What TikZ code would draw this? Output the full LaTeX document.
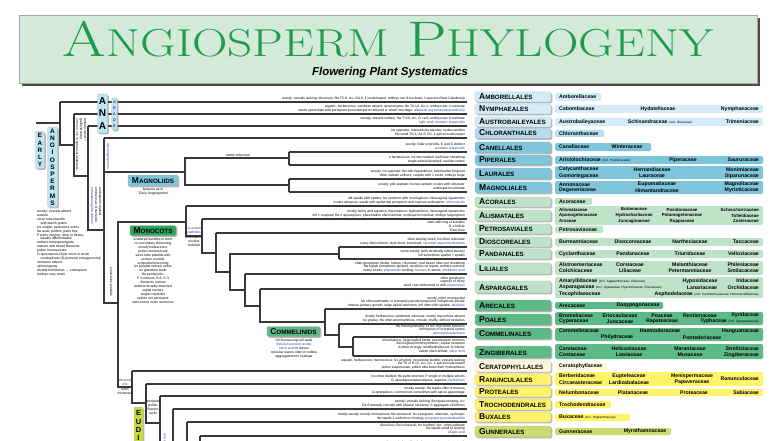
\documentclass[tikz,border=0pt]{standalone}
\usepackage{fontspec}
\newfontfamily\lsans{Liberation Sans}
\usetikzlibrary{shadows}
\definecolor{titleg}{HTML}{1E9C4B}
\definecolor{headbg}{HTML}{D4EAD9}
\definecolor{linec}{HTML}{383838}
\definecolor{blu}{HTML}{2B3FA8}
\definecolor{anac}{HTML}{D3ECF8}
\definecolor{chlc}{HTML}{B6DDED}
\definecolor{magc}{HTML}{7EC4DB}
\definecolor{monoc}{HTML}{BFE3C9}
\definecolor{commc}{HTML}{5DB985}
\definecolor{cerc}{HTML}{FFF9DB}
\definecolor{eudc}{HTML}{FFF36A}
\definecolor{gunc}{HTML}{CADB6F}
\definecolor{earlyc}{HTML}{BEE5F5}
\definecolor{monolbl}{HTML}{2EA45E}
\definecolor{eudlbl}{HTML}{C6DB3B}
\newcommand\bl[1]{\textcolor{blu}{#1}}
\newcommand\inc[1]{{\fontsize{3.2}{3.2}\selectfont\mdseries (incl. #1)}}
\newcounter{fc}
\newcommand\ft[4]{\stepcounter{fc}\node[ftxt,anchor=#3] (f\number\value{fc}) at (#1,#2) {#4};}
\newcommand\orow[6]{%
  \node[obox,fill=#4,minimum height={(#3-#2)*1pt}] (ob#1) at (513,{(#2+#3)/2}) {};
  \node[anchor=base west,inner sep=0pt,font=\lsans\bfseries] (ot#1) at (479,{#3-2.6}) {{\fontsize{8.5}{8.5}\selectfont #5}{\fontsize{6.2}{6.2}\selectfont #6}};}
\newcommand\fambox[4]{\path[fill=#4,rounded corners=1.5pt] (555,#2) rectangle (#1,#3);}
\newcommand\ann[3]{\node[ann] (a#1) at (465,#2) {#3};}
\begin{document}
\begin{tikzpicture}[x=1pt,y=-1pt,
  br/.style={draw=linec,line width=1.1pt},
  ann/.style={font=\lsans\fontsize{3.4}{3.75}\selectfont,align=right,anchor=south east,inner sep=0pt},
  sm/.style={font=\lsans\fontsize{3.4}{3.9}\selectfont,inner sep=0pt},
  ftxt/.style={font=\lsans\bfseries\fontsize{5.2}{5.2}\selectfont,inner sep=0pt},
  fsm/.style={font=\lsans\bfseries\fontsize{4.4}{4.4}\selectfont,inner sep=0pt},
  obox/.style={draw=black!30,line width=0.3pt,rounded corners=1.5pt,minimum width=76pt,inner sep=0pt,drop shadow={shadow xshift=1.3pt,shadow yshift=-1.3pt,fill=black!55}},
  lbox/.style={draw=black!30,line width=0.3pt,rounded corners=1.2pt,inner sep=0pt,drop shadow={shadow xshift=1.3pt,shadow yshift=-1.3pt,fill=black!55}},
]
\useasboundingbox (0,0) rectangle (784,441);
\fill[white] (0,0) rectangle (784,441);
% header
\fill[black!70] (22,18) rectangle (760,86);
\node[draw=black!35,line width=0.4pt,fill=headbg,minimum width=738pt,minimum height=68pt,inner sep=0pt] (hdr) at (388,49) {};
\node[text=titleg,inner sep=0pt,anchor=base] (ttl) at (388,57) {\scalebox{1.26}[1]{\fontsize{50}{50}\selectfont A\fontsize{39}{39}\selectfont NGIOSPERM\hspace{14pt}\fontsize{50}{50}\selectfont P\fontsize{39}{39}\selectfont HYLOGENY}};
\node[anchor=base,font=\lsans\bfseries\itshape\fontsize{11.5}{11.5}\selectfont,inner sep=0pt] (sub) at (390,76) {Flowering Plant Systematics};

% ---------- tree ----------
\foreach \x/\y in {60/102,74/114,88/126,104/138,289/152,289/165,289/179,289/192,186/206,202/219,216/233,339/247,339/259,245/274,260/289,325/309,339/324,353/337,353/356,132/371,146/384,160/396,173/409,187/422,200/436}
  \draw[br] (\x,\y) -- (467,\y);
\draw[br] (36,123) -- (60,123);
\draw[br] (60,102) -- (60,145) -- (74,145);
\draw[br] (74,114) -- (74,176) -- (88,176);
\draw[br] (88,126) -- (88,230) -- (104,230);
\draw[br] (104,138) -- (104,303) -- (118,303);
\draw[br] (104,172) -- (185,172);
\draw[br] (289,158) -- (185,158) -- (185,185) -- (289,185);
\draw[br] (289,152) -- (289,165);
\draw[br] (289,179) -- (289,192);
\draw[br] (186,222) -- (118,222) -- (118,387) -- (132,387);
\draw[br] (186,206) -- (186,236) -- (202,236);
\draw[br] (202,219) -- (202,253) -- (216,253);
\draw[br] (216,233) -- (216,272) -- (230,272);
\draw[br] (339,254) -- (230,254) -- (230,290) -- (245,290);
\draw[br] (339,247) -- (339,259);
\draw[br] (245,274) -- (245,306) -- (260,306);
\draw[br] (260,289) -- (260,322) -- (325,322);
\draw[br] (325,309) -- (325,335) -- (339,335);
\draw[br] (339,324) -- (339,347) -- (353,347);
\draw[br] (353,337) -- (353,356);
\draw[br] (132,371) -- (132,403) -- (146,403);
\draw[br] (146,384) -- (146,423) -- (160,423);
\draw[br] (160,396) -- (160,450) -- (173,450);
\draw[br] (173,409) -- (173,470);
\draw[br] (187,422) -- (187,490);
\draw[br] (200,436) -- (200,510);

% ---------- annotations ----------
\ann{1}{100.5}{woody, vessels lacking; dioecious; flw T5-8, A∞, G4-8, 1 ovule/carpel, embryo sac 9-nucleate; 1 species (New Caledonia)}
\ann{2}{112.5}{aquatic, herbaceous, cambium absent; aerenchyma; flw T4-12, A1-∞, embryo sac 4-nucleate\\seeds operculate with perisperm but endosperm reduced or small; mucilage; \bl{alkaloids (eg benzylisoquinolines)}}
\ann{3}{124.5}{woody, vessels solitary; flw T>10, A∞, G ca.9, embryo sac 4-nucleate\\\bl{tiglic acid; aromatic terpenoids}}
\ann{4}{136.5}{lvs opposite, interpetiolar stipules; nodes swollen\\flw small T0-3, A1-5, G1, 1 apical ovule/carpel}
\ann{5}{150.5}{woody; foliar sclereids, K and C distinct\\\bl{aromatic terpenoids}}
\ann{6}{163.5}{± herbaceous; lvs two-ranked; leaf base sheathing\\single adaxial prophyll; swollen nodes}
\ann{7}{177.5}{woody; lvs opposite; flw with hypanthium, staminodes frequent\\often valvate anthers; carpels with 1 ovule; embryo large}
\ann{8}{190.5}{woody; pith septate; lvs two-ranked; ovules with obturator\\endosperm ruminate}
\ann{9}{204.5}{infl spadix with spathe; lvs ensiform with mucilaginous intravaginal squamules\\ovules atropous, seeds with epidermal perisperm and copious endosperm; \bl{ethereal oils}}
\ann{10}{217.5}{mostly herbs and aquatics; rhizomatous; hydrophilous; intravaginal squamules\\infl ± scapose; flw ± apocarpous; placentation often laminar; endosperm helobial; embryo large/green}
\ann{11}{231.5}{stem with ring of bundles\\G ± follicle\\East Asia}
\ann{12}{245.5}{often twining vines; lvs often reticulate\\ovary often inferior, style short, branched; \bl{steroidal saponins/alkaloids}}
\ann{13}{257.5}{some woody (with terminally tufted leaves)\\infl sometimes spathe + spadix}
\ann{14}{272.5}{often geophytes (bulbs, tubers, rhizomes); leaf bases often not sheathing\\flw tepals sometimes spotted, nectaries on tepals, anthers extrorse\\many seeds; \bl{phytomelan} lacking; \bl{fructans} in stems, \bl{chelidonic acid}}
\ann{15}{287.5}{often geophytes\\capsule or berry\\seed coat obliterated or with \bl{phytomelan}}
\ann{16}{307.5}{woody, often monopodial\\lvs often palmately or pinnately pseudocompound, induplicate-plicate\\intense primary growth, large apical meristem, infl often with spathe; \bl{alkaloids}}
\ann{17}{322}{mostly herbaceous; epidermis siliceous; mostly mycorrhiza absent\\lvs grassy; flw often anemophilous, minute, chaffy, without nectaries}
\ann{18}{335.5}{flw monosymmetric or not, few fertile stamens\\infl thyrsus of scorpioid cymes\\\bl{phenylphenalenones}}
\ann{19}{353}{rhizomatous, large-leafed herbs; pseudostem common\\flw irregular/monosymmetric, septal nectaries\\A often strongly modified/reduced, G inferior\\seeds often arillate, \bl{silicic acid}}
\ann{20}{369.5}{aquatic, herbaceous; monoecious; lvs whorled, no petiolar bundle; vessels lacking\\flw T0 or 8-12, A∞, G1, 1 apical ovule/carpel\\pollen inaperturate, pollen tube branched; hydrophilous}
\ann{21}{382.5}{lvs often divided; flw parts whorled, P single or multiple whorls\\G apocarpous/paracarpous, superior; \bl{berberines}}
\ann{22}{394.5}{mostly woody; flw tepals often 4-merous\\A epitepalous, connectives sometimes with apical appendage}
\ann{23}{407.5}{woody; vessels lacking; flw tepals missing, A∞\\G4-6 laterally connate with abaxial nectaries; fr aggregate of follicles}
\ann{24}{420.5}{mostly woody; mostly monoecious; flw unisexual; lvs evergreen, alternate, cyclocytic\\flw tepals 2 uniform or missing; \bl{pregnane pseudoalkaloids}}
\ann{25}{434.5}{dioecious; flw unisexual; lvs toothed, sec. veins palmate\\flw tepals small to lacking\\\bl{ellagic acid}}
\ann{26}{444.5}{mostly woody; lvs with stipules, secondary veins to teeth}

\node[sm] (trilac) at (238,155) {nodes trilacunar};
\node[sm,align=center,anchor=north] (raph) at (194,227) {\bl{Ca-oxalate}\\\bl{raphides}\\[1pt]endosperm\\nuclear\\helobial};
\node[sm,rotate=-90,align=left] (v1) at (81,144) {tension wood +\\(pellucid dots)\\\bl{ethereal oils} in spherical idioblasts};
\node[sm,rotate=-90,align=left] (v2) at (96,206) {endosperm triploid\\embryo sac 8-nucleate\\\bl{tetrasporangiate anthers}};
\node[sm,rotate=-90] (v3) at (108,156) {\bl{mesangiosperms}};
\node[sm,rotate=-90] (v4) at (111,282) {sieve-tube plastids};
\node[sm,align=center,anchor=north] (eth) at (125,379) {\bl{ethereal}\\\bl{oils}\\[1pt]walls\\thickened};
\node[sm,align=center,anchor=north] (tric) at (153,400) {tricolpate\\pollen\\flowers\\cyclic};
\node[sm,rotate=-90,anchor=west] (v5) at (165,433) {\bl{core eudicots}};

% ---------- clade labels ----------
\node[lbox,fill=earlyc,minimum width=9pt,minimum height=37pt,font=\lsans\bfseries\fontsize{6.3}{7.1}\selectfont,align=center] (early) at (40,150) {E\\A\\R\\L\\Y};
\node[lbox,fill=earlyc,minimum width=10pt,minimum height=80pt,font=\lsans\bfseries\fontsize{6.5}{7.2}\selectfont,align=center] (angio) at (52.5,167) {A\\N\\G\\I\\O\\S\\P\\E\\R\\M\\S};
\node[lbox,fill=earlyc,minimum width=10pt,minimum height=39pt,font=\lsans\bfseries\fontsize{10}{12.3}\selectfont,align=center] (ana) at (102.5,113.5) {A\\N\\A};
\node[lbox,fill=earlyc,minimum width=5.5pt,minimum height=32pt,font=\lsans\fontsize{3.8}{6}\selectfont,align=center] (grade) at (114.5,114) {G\\R\\A\\D\\E};
\node[sm,anchor=north west,align=left] (earlylist) at (37,210) {woody; vessels absent\\eustele\\sieve tube plastids\\\quad with starch grains\\lvs simple, persistent, entire\\flw axial, perfect, parts free\\P parts varying, often in threes,\\\quad weakly differentiated\\anthers tetrasporangiate\\stamen with broad filaments\\pollen monosulcate\\G apocarpous (style short or small\\\quad conduplicate (G-present) extragynoecial\\nectaries absent\\siphonogamy\\double fertilization → endosperm\\embryo very small};

\node[lbox,fill=magc,minimum width=50pt,minimum height=11pt,font=\lsans\bfseries] (maglbl) at (153,180.5) {{\fontsize{8.5}{8.5}\selectfont M}{\fontsize{6.3}{6.3}\selectfont AGNOLIIDS}};
\node[sm,align=center,anchor=north] (magfeat) at (153,188) {features as in\\``Early Angiosperms''};
\node[lbox,fill=monolbl,minimum width=46pt,minimum height=10pt,font=\lsans\bfseries] (monolbl) at (153,230.5) {{\fontsize{8.5}{8.5}\selectfont M}{\fontsize{6.3}{6.3}\selectfont ONOCOTS}};
\node[sm,align=center,anchor=north] (monolist) at (153,238) {scattered bundles in stem\\no secondary thickening\\mostly herbaceous\\pollen monosulcate\\sieve tube plastids with\\protein crystals\\sympodial branching\\lvs parallel-veined, entire\\no glandular teeth\\flw pentacyclic\\P 3-merous, A 6, G 3\\filaments narrow\\anthers broadly attached\\septal nectary\\single cotyledon\\radicle not persistent\\stem-borne roots numerous};
\node[lbox,fill=commc,minimum width=53pt,minimum height=10pt,font=\lsans\bfseries] (commlbl) at (293.5,331.5) {{\fontsize{8.5}{8.5}\selectfont C}{\fontsize{6.3}{6.3}\selectfont OMMELINIDS}};
\node[sm,align=center,anchor=north] (commlist) at (294,339) {UV-fluorescing cell walls\\\bl{(ferulic/coumaric acids)}\\\bl{silicic acid} in leaves\\cuticular waxes often in rodlets\\aggregated into scallops};
\node[lbox,fill=eudlbl,minimum width=9pt,minimum height=70pt,font=\lsans\bfseries\fontsize{7.5}{8.2}\selectfont,align=center,anchor=north] (eudlbl) at (138.5,407) {E\\U\\D\\I\\C\\O\\T\\S};

% ---------- order boxes ----------
\orow{1}{92}{102}{anac}{A}{MBORELLALES}
\orow{2}{104}{114}{anac}{N}{YMPHAEALES}
\orow{3}{117}{127}{anac}{A}{USTROBAILEYALES}
\orow{4}{128.5}{138.5}{chlc}{C}{HLORANTHALES}
\orow{5}{142}{153}{magc}{C}{ANELLALES}
\orow{6}{155}{165}{magc}{P}{IPERALES}
\orow{7}{168}{179}{magc}{L}{AURALES}
\orow{8}{182}{193}{magc}{M}{AGNOLIALES}
\orow{9}{197}{207}{monoc}{A}{CORALES}
\orow{10}{210}{221}{monoc}{A}{LISMATALES}
\orow{11}{224}{234}{monoc}{P}{ETROSAVIALES}
\orow{12}{237}{247}{monoc}{D}{IOSCOREALES}
\orow{13}{249}{259}{monoc}{P}{ANDANALES}
\orow{14}{263}{274}{monoc}{L}{ILIALES}
\orow{15}{281}{293}{monoc}{A}{SPARAGALES}
\orow{16}{300}{311}{commc}{A}{RECALES}
\orow{17}{314}{325}{commc}{P}{OALES}
\orow{18}{328}{339}{commc}{C}{OMMELINALES}
\orow{19}{346}{358}{commc}{Z}{INGIBERALES}
\orow{20}{361}{372}{cerc}{C}{ERATOPHYLLALES}
\orow{21}{374}{385}{eudc}{R}{ANUNCULALES}
\orow{22}{387}{397}{eudc}{P}{ROTEALES}
\orow{23}{399}{410}{eudc}{T}{ROCHODENDRALES}
\orow{24}{412}{422}{eudc}{B}{UXALES}
\orow{25}{426}{437}{gunc}{G}{UNNERALES}

% ---------- family boxes ----------
\fambox{601}{93}{101}{anac}
\fambox{763}{105}{113}{anac}
\fambox{763}{118}{126}{anac}
\fambox{604}{130}{137}{chlc}
\fambox{651}{143}{151}{magc}
\fambox{763}{156}{164}{magc}
\fambox{763}{166}{179}{magc}
\fambox{763}{181}{194}{magc}
\fambox{592}{198}{205}{monoc}
\fambox{763}{206}{225}{monoc}
\fambox{603}{226}{233}{monoc}
\fambox{763}{238}{246}{monoc}
\fambox{763}{250}{258}{monoc}
\fambox{763}{261}{275}{monoc}
\fambox{763}{277}{298}{monoc}
\fambox{663}{302}{309}{commc}
\fambox{763}{312}{325}{commc}
\fambox{763}{328}{341}{commc}
\fambox{763}{344}{359}{commc}
\fambox{608}{363}{370}{cerc}
\fambox{763}{372}{386}{eudc}
\fambox{763}{389}{396}{eudc}
\fambox{611}{401}{408}{eudc}
\fambox{630}{414}{421}{eudc}
\fambox{671}{428}{435}{gunc}

% ---------- family names ----------
\ft{559}{97}{west}{Amborellaceae}
\ft{559}{109}{west}{Cabombaceae}\ft{658}{109}{center}{Hydatellaceae}\ft{759}{109}{east}{Nymphaeaceae}
\ft{559}{122}{west}{Austrobaileyaceae}\ft{660}{122}{center}{Schisandraceae \inc{Illiciaceae}}\ft{759}{122}{east}{Trimeniaceae}
\ft{559}{133.5}{west}{Chloranthaceae}
\ft{559}{147}{west}{Canellaceae}\ft{627}{147}{center}{Winteraceae}
\ft{559}{160}{west}{Aristolochiaceae \inc{Hydnoraceae}}\ft{683}{160}{center}{Piperaceae}\ft{759}{160}{east}{Saururaceae}
\ft{559}{169.5}{west}{Calycanthaceae}\ft{652}{169.5}{center}{Hernandiaceae}\ft{759}{169.5}{east}{Monimiaceae}
\ft{559}{175.8}{west}{Gomortegaceae}\ft{652}{175.8}{center}{Lauraceae}\ft{759}{175.8}{east}{Siparunaceae}
\ft{559}{184.3}{west}{Annonaceae}\ft{657}{184.3}{center}{Eupomatiaceae}\ft{759}{184.3}{east}{Magnoliaceae}
\ft{559}{190.6}{west}{Degeneriaceae}\ft{657}{190.6}{center}{Himantandraceae}\ft{759}{190.6}{east}{Myristicaceae}
\ft{559}{201.5}{west}{Acoraceae}
\node[fsm,anchor=west] (al1) at (559,209.5) {Alismataceae};\node[fsm] (al2) at (634,209.5) {Butomaceae};\node[fsm] (al3) at (682,209.5) {Posidoniaceae};\node[fsm,anchor=east] (al4) at (759,209.5) {Scheuchzeriaceae};
\node[fsm,anchor=west] (al5) at (559,215.5) {Aponogetonaceae};\node[fsm] (al6) at (634,215.5) {Hydrocharitaceae};\node[fsm] (al7) at (682,215.5) {Potamogetonaceae};\node[fsm,anchor=east] (al8) at (759,215.5) {Tofieldiaceae};
\node[fsm,anchor=west] (al9) at (559,221.5) {Araceae};\node[fsm] (al10) at (634,221.5) {Juncaginaceae};\node[fsm] (al11) at (682,221.5) {Ruppiaceae};\node[fsm,anchor=east] (al12) at (759,221.5) {Zosteraceae};
\ft{559}{229.5}{west}{Petrosaviaceae}
\ft{559}{242}{west}{Burmanniaceae}\ft{633}{242}{center}{Dioscoreaceae}\ft{690}{242}{center}{Nartheciaceae}\ft{759}{242}{east}{Taccaceae}
\ft{559}{254}{west}{Cyclanthaceae}\ft{633}{254}{center}{Pandanaceae}\ft{690}{254}{center}{Triuridaceae}\ft{759}{254}{east}{Velloziaceae}
\ft{559}{264.5}{west}{Alstroemeriaceae}\ft{630}{264.5}{center}{Corsiaceae}\ft{690}{264.5}{center}{Melanthiaceae}\ft{759}{264.5}{east}{Philesiaceae}
\ft{559}{271}{west}{Colchicaceae}\ft{630}{271}{center}{Liliaceae}\ft{690}{271}{center}{Petermanniaceae}\ft{759}{271}{east}{Smilacaceae}
\ft{559}{281}{west}{Amaryllidaceae \inc{Agapanthaceae, Alliaceae}}\ft{700}{281}{center}{Hypoxidaceae}\ft{759}{281}{east}{Iridaceae}
\ft{559}{287.5}{west}{Asparagaceae \inc{Agavaceae, Hyacinthaceae, Ruscaceae}}\ft{702}{287.5}{center}{Lanariaceae}\ft{759}{287.5}{east}{Orchidaceae}
\ft{559}{294}{west}{Tecophilaeaceae}\ft{759}{294}{east}{Asphodelaceae \inc{Xanthorrhoeaceae, Hemerocallidaceae}}
\ft{559}{305.5}{west}{Arecaceae}\ft{638}{305.5}{center}{Dasypogonaceae}
\ft{559}{315.5}{west}{Bromeliaceae}\ft{620}{315.5}{center}{Eriocaulaceae}\ft{662}{315.5}{center}{Poaceae}\ft{700}{315.5}{center}{Restionaceae}\ft{759}{315.5}{east}{Xyridaceae}
\ft{559}{321.5}{west}{Cyperaceae}\ft{620}{321.5}{center}{Juncaceae}\ft{662}{321.5}{center}{Rapateaceae}\ft{759}{321.5}{east}{Typhaceae \inc{Sparganiaceae}}
\ft{559}{331}{west}{Commelinaceae}\ft{660}{331}{center}{Haemodoraceae}\ft{759}{331}{east}{Hanguanaceae}
\ft{617}{337.5}{center}{Philydraceae}\ft{702}{337.5}{center}{Pontederiaceae}
\ft{559}{348.5}{west}{Cannaceae}\ft{629}{348.5}{center}{Heliconiaceae}\ft{690}{348.5}{center}{Marantaceae}\ft{759}{348.5}{east}{Strelitziaceae}
\ft{559}{355}{west}{Costaceae}\ft{629}{355}{center}{Lowiaceae}\ft{690}{355}{center}{Musaceae}\ft{759}{355}{east}{Zingiberaceae}
\ft{559}{366.5}{west}{Ceratophyllaceae}
\ft{559}{376}{west}{Berberidaceae}\ft{629}{376}{center}{Eupteleaceae}\ft{692}{376}{center}{Menispermaceae}\ft{759}{379}{east}{Ranunculaceae}
\ft{559}{382.5}{west}{Circaeasteraceae}\ft{629}{382.5}{center}{Lardizabalaceae}\ft{692}{382.5}{center}{Papaveraceae}
\ft{559}{392.5}{west}{Nelumbonaceae}\ft{633}{392.5}{center}{Platanaceae}\ft{694}{392.5}{center}{Proteaceae}\ft{759}{392.5}{east}{Sabiaceae}
\ft{559}{404.5}{west}{Trochodendraceae}
\ft{559}{417.5}{west}{Buxaceae \inc{Haptanthaceae}}
\ft{559}{431.5}{west}{Gunneraceae}\ft{645}{431.5}{center}{Myrothamnaceae}
\end{tikzpicture}
\end{document}
